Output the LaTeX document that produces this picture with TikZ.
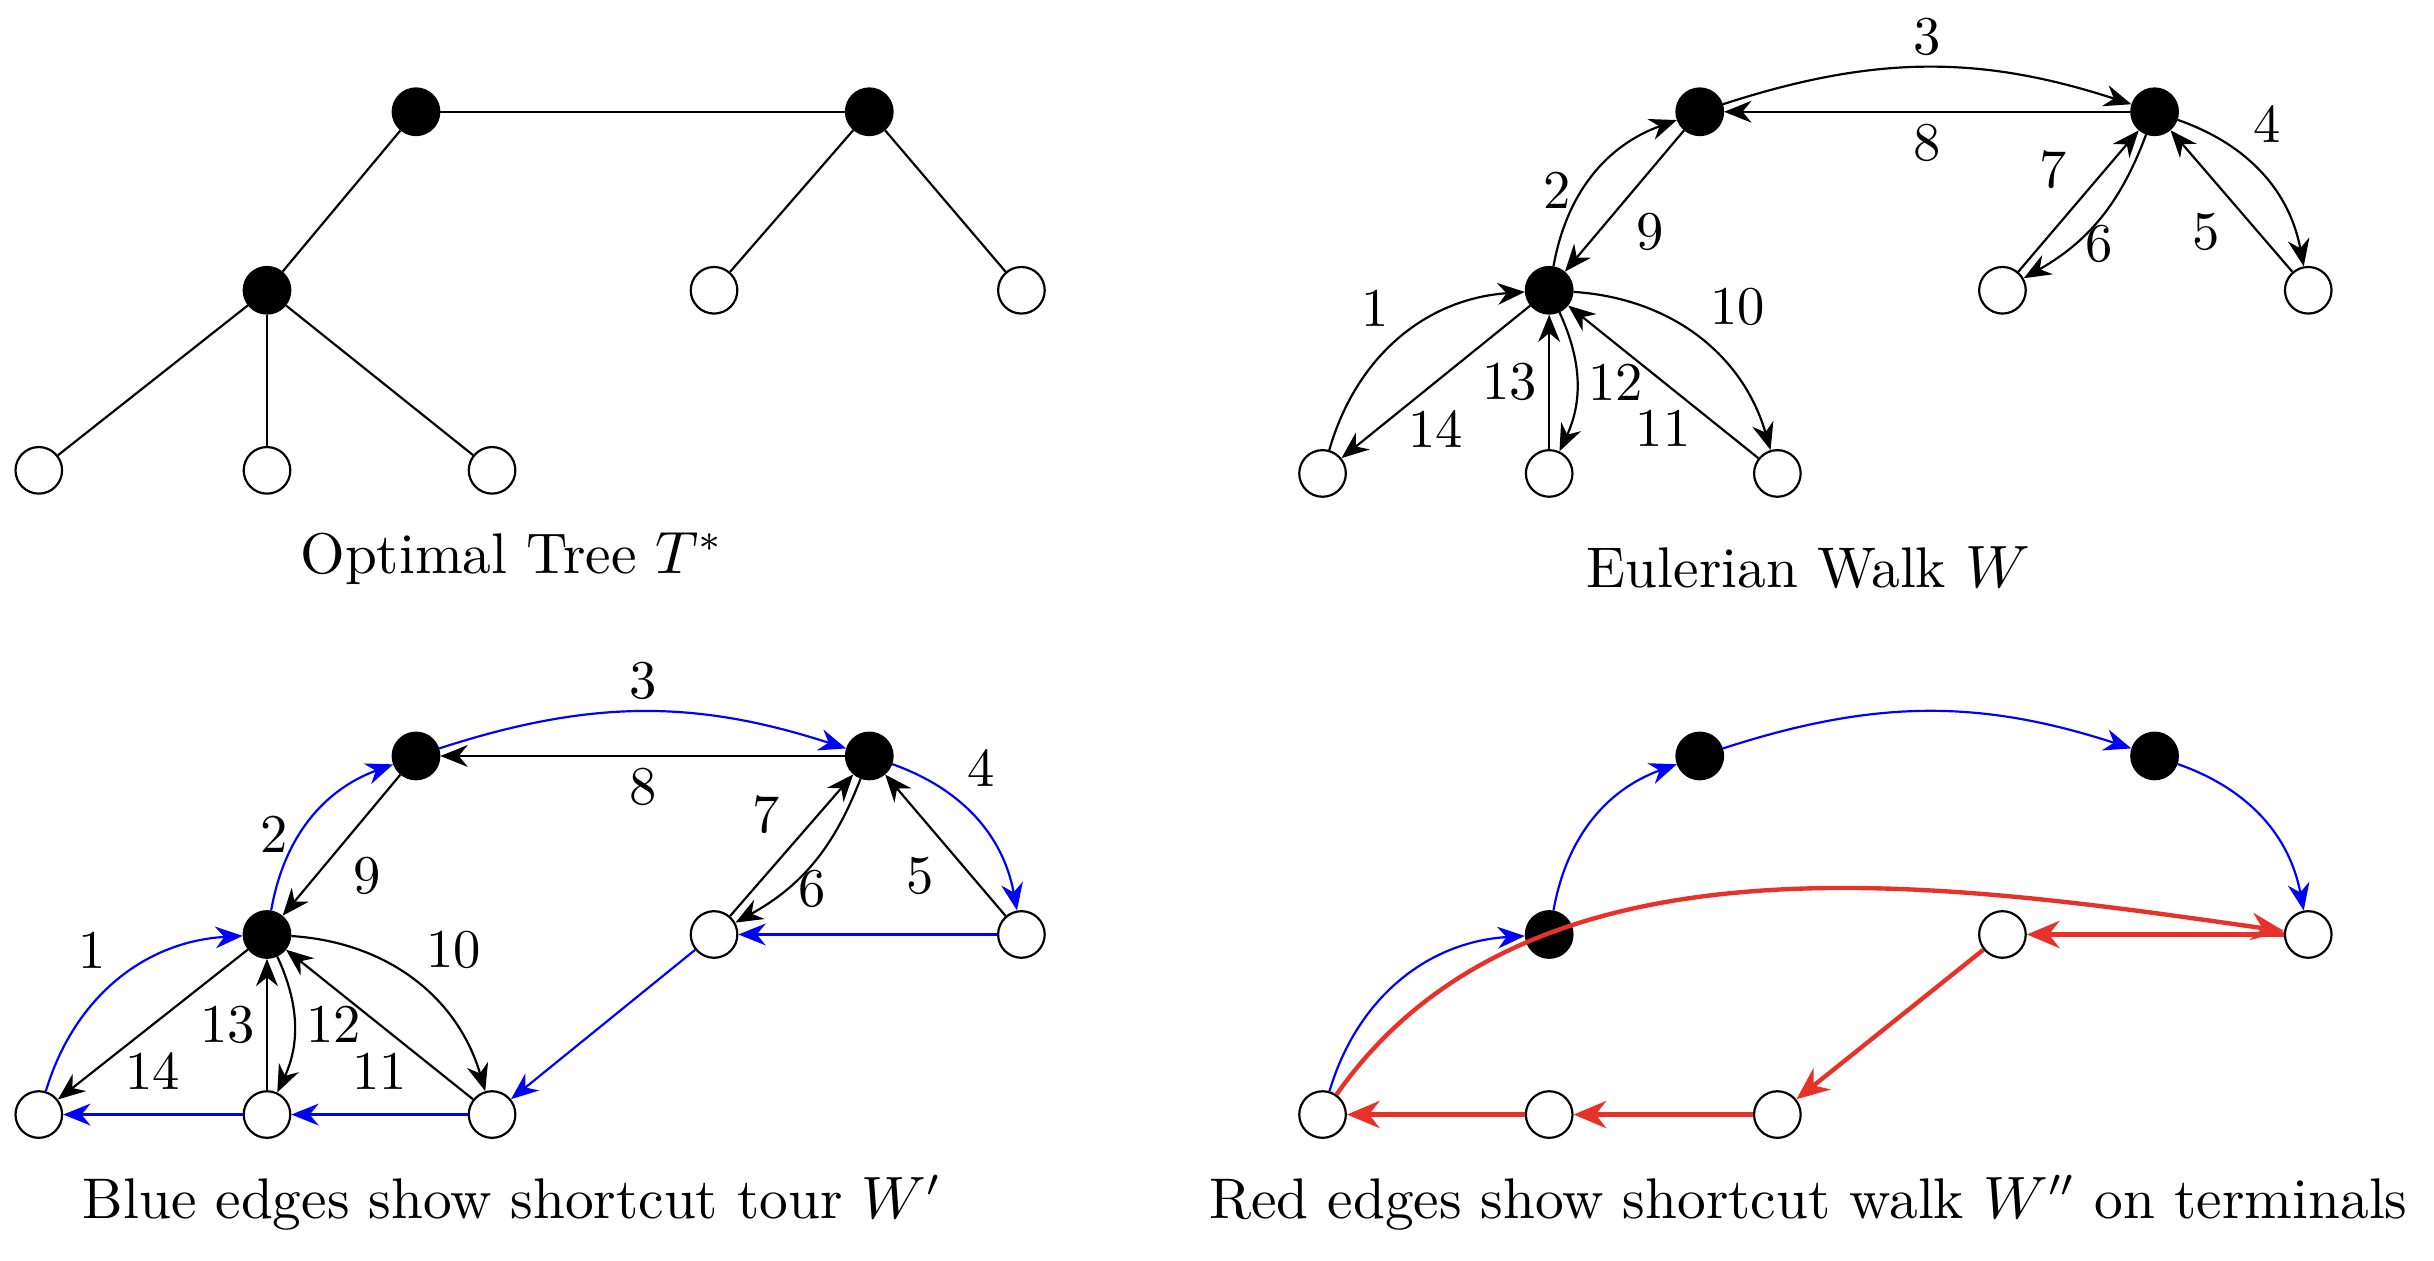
\documentclass[tikz,border=0pt]{standalone}
\usetikzlibrary{arrows.meta}
\definecolor{redwalk}{RGB}{230,50,40}
\tikzset{
  term/.style={circle, draw, fill=white, minimum size=0.3cm, inner sep=0pt},
  steiner/.style={circle, draw, fill=black, minimum size=0.3cm, inner sep=0pt},
  walk/.style={-{Stealth[length=5pt,width=4pt]}, thin},
  blue walk/.style={walk, blue},
  red walk/.style={-{Stealth[length=6pt,width=5pt]}, redwalk, thick},
  num/.style={font=\normalsize, inner sep=2pt},
  caption/.style={font=\fontsize{10.5}{12}\selectfont}
}
\begin{document}
\begin{tikzpicture}[x=0.01cm, y=0.01cm]
  \useasboundingbox (0,0) rectangle (1568,-812);

  % Arbol optimo
  \node[steiner] (ta) at (268,-72) {};
  \node[steiner] (tb) at (560,-72) {};
  \node[steiner] (tc) at (172,-187) {};
  \node[term] (tw4) at (460,-187) {};
  \node[term] (tw5) at (658,-187) {};
  \node[term] (tl1) at (25,-303) {};
  \node[term] (tl2) at (172,-303) {};
  \node[term] (tl3) at (317,-303) {};
  \draw (ta) -- (tb);
  \draw (ta) -- (tc);
  \draw (tb) -- (tw4);
  \draw (tb) -- (tw5);
  \draw (tc) -- (tl1);
  \draw (tc) -- (tl2);
  \draw (tc) -- (tl3);
  \node[caption] (tcap) at (330,-360) {Optimal Tree $T^{*}$};

  % Recorrido euleriano
  \node[steiner] (ea) at (1095,-72) {};
  \node[steiner] (eb) at (1388,-72) {};
  \node[steiner] (ec) at (998,-187) {};
  \node[term] (ew4) at (1290,-187) {};
  \node[term] (ew5) at (1487,-187) {};
  \node[term] (el1) at (852,-305) {};
  \node[term] (el2) at (998,-305) {};
  \node[term] (el3) at (1145,-305) {};
  \draw[walk] (el1) to[bend left=35] node[num, above left]{1} (ec);
  \draw[walk] (ec) to[bend left=30] node[num, left, pos=0.4]{2} (ea);
  \draw[walk] (ea) to[bend left=18] node[num, above]{3} (eb);
  \draw[walk] (eb) to[bend left=30] node[num, above right, pos=0.35]{4} (ew5);
  \draw[walk] (ew5) -- node[num, below left]{5} (eb);
  \draw[walk] (eb) to[bend left=20] node[num, right, pos=0.7]{6} (ew4);
  \draw[walk] (ew4) -- node[num, above left]{7} (eb);
  \draw[walk] (eb) -- node[num, below]{8} (ea);
  \draw[walk] (ea) -- node[num, below right]{9} (ec);
  \draw[walk] (ec) to[bend left=35] node[num, above right]{10} (el3);
  \draw[walk] (el3) -- node[num, below=3pt]{11} (ec);
  \draw[walk] (ec) to[bend left=25] node[num, right]{12} (el2);
  \draw[walk] (el2) -- node[num, left]{13} (ec);
  \draw[walk] (ec) -- node[num, below=3pt]{14} (el1);
  \node[caption] (ecap) at (1165,-366) {Eulerian Walk $W$};

  % Atajo azul
  \node[steiner] (ba) at (268,-487) {};
  \node[steiner] (bb) at (560,-487) {};
  \node[steiner] (bc) at (172,-602) {};
  \node[term] (bw4) at (460,-602) {};
  \node[term] (bw5) at (658,-602) {};
  \node[term] (bl1) at (25,-718) {};
  \node[term] (bl2) at (172,-718) {};
  \node[term] (bl3) at (317,-718) {};
  \draw[blue walk] (bl1) to[bend left=35] node[num, black, above left]{1} (bc);
  \draw[blue walk] (bc) to[bend left=30] node[num, black, left, pos=0.4]{2} (ba);
  \draw[blue walk] (ba) to[bend left=18] node[num, black, above]{3} (bb);
  \draw[blue walk] (bb) to[bend left=30] node[num, black, above right, pos=0.35]{4} (bw5);
  \draw[walk] (bw5) -- node[num, below left]{5} (bb);
  \draw[walk] (bb) to[bend left=20] node[num, right, pos=0.7]{6} (bw4);
  \draw[walk] (bw4) -- node[num, above left]{7} (bb);
  \draw[walk] (bb) -- node[num, below]{8} (ba);
  \draw[walk] (ba) -- node[num, below right]{9} (bc);
  \draw[walk] (bc) to[bend left=35] node[num, above right]{10} (bl3);
  \draw[walk] (bl3) -- node[num, below=3pt]{11} (bc);
  \draw[walk] (bc) to[bend left=25] node[num, right]{12} (bl2);
  \draw[walk] (bl2) -- node[num, left]{13} (bc);
  \draw[walk] (bc) -- node[num, below=3pt]{14} (bl1);
  \draw[blue walk] (bw5) -- (bw4);
  \draw[blue walk] (bw4) -- (bl3);
  \draw[blue walk] (bl3) -- (bl2);
  \draw[blue walk] (bl2) -- (bl1);
  \node[caption] (bcap) at (330,-775) {Blue edges show shortcut tour $W'$};

  % Atajo rojo sobre terminales
  \node[steiner] (ra) at (1095,-487) {};
  \node[steiner] (rb) at (1388,-487) {};
  \node[steiner] (rc) at (998,-602) {};
  \node[term] (rw4) at (1290,-602) {};
  \node[term] (rw5) at (1487,-602) {};
  \node[term] (rl1) at (852,-718) {};
  \node[term] (rl2) at (998,-718) {};
  \node[term] (rl3) at (1145,-718) {};
  \draw[blue walk] (rl1) to[bend left=35] (rc);
  \draw[blue walk] (rc) to[bend left=30] (ra);
  \draw[blue walk] (ra) to[bend left=18] (rb);
  \draw[blue walk] (rb) to[bend left=30] (rw5);
  \draw[red walk] (rw5) -- (rw4);
  \draw[red walk] (rw4) -- (rl3);
  \draw[red walk] (rl3) -- (rl2);
  \draw[red walk] (rl2) -- (rl1);
  \draw[red walk] (rl1) to[out=55, in=172, looseness=0.9] (rw5);
  \node[caption] (rcap) at (1165,-775) {Red edges show shortcut walk $W''$ on terminals};
\end{tikzpicture}
\end{document}
